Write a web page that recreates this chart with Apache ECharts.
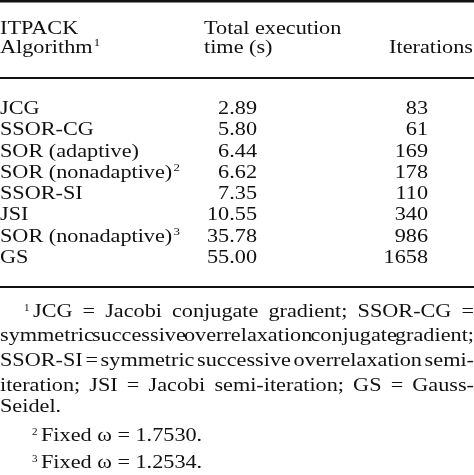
<!DOCTYPE html><html><head><meta charset="utf-8"><script src="https://cdn.jsdelivr.net/npm/echarts@6/dist/echarts.min.js"></script>
<style>html,body{margin:0;background:#fff}#c{width:474px;height:475px}</style></head><body><div id="c"></div><script>
const algorithms=['JCG','SSOR-CG','SOR (adaptive)','SOR (nonadaptive)','SSOR-SI','JSI','SOR (nonadaptive)','GS'];
const algSup=['','','','2','','','3',''];
const times=['2.89','5.80','6.44','6.62','7.35','10.55','35.78','55.00'];
const iterations=[83,61,169,178,110,340,986,1658];
const footSup=['1','','','','','2','3'];
const footLines=['JCG = Jacobi conjugate gradient; SSOR-CG =',
 'symmetric successive overrelaxation conjugate gradient;',
 'SSOR-SI = symmetric successive overrelaxation semi-',
 'iteration; JSI = Jacobi semi-iteration; GS = Gauss-',
 'Seidel.','Fixed ω = 1.7530.','Fixed ω = 1.2534.'];
const footJustify=[true,true,true,true,false,false,false];
const footIndent=[24,0,0,0,0,32,32];
const fnY=[312,336,361,386,407,436,463];
const F='"Liberation Serif", serif', FS=19, SX=1.17;
const rich={s:{fontSize:11,verticalAlign:'top',padding:[0,2,9,1],fontFamily:F,fill:'#111'}};
const cv=document.createElement('canvas').getContext('2d');cv.font=FS+'px "Liberation Serif"';
const w=s=>cv.measureText(s).width*SX;
function t(x,y,text,align){return {type:'text',x,y,scaleX:SX,style:{text,fontFamily:F,fontSize:FS,fill:'#111',textAlign:align||'left',textVerticalAlign:'middle',rich}};}
const g=[];
g.push({type:'rect',shape:{x:0,y:0,width:474,height:2.5},style:{fill:'#111'}});
g.push({type:'rect',shape:{x:0,y:77,width:474,height:2},style:{fill:'#111'}});
g.push({type:'rect',shape:{x:0,y:286,width:474,height:2},style:{fill:'#111'}});
g.push(t(0,29,'ITPACK'));
g.push(t(0,48,'Algorithm{s|1}'));
g.push(t(204,29,'Total execution'));
g.push(t(204,48,'time (s)'));
g.push(t(473,48,'Iterations','right'));
algorithms.forEach((a,i)=>{const y=109+i*21.3;
 g.push(t(0,y,a+(algSup[i]?'{s|'+algSup[i]+'}':'')));
 g.push(t(257,y,times[i],'right'));
 g.push(t(428,y,String(iterations[i]),'right'));});
footLines.forEach((line,i)=>{
 let x=footIndent[i];const y=fnY[i];
 if(footSup[i]){g.push({type:'text',x,y:y-4,style:{text:footSup[i],fontFamily:F,fontSize:11,fill:'#111',textVerticalAlign:'middle'}});x+=9;}
 const words=line.split(' ');
 if(footJustify[i]){const tot=words.reduce((s,wd)=>s+w(wd),0);const gap=(474-x-tot)/(words.length-1);
  words.forEach(wd=>{g.push(t(x,y,wd));x+=w(wd)+gap;});}
 else g.push(t(x,y,line));
});
const ch=echarts.init(document.getElementById('c'));
ch.setOption({animation:false,graphic:g});
</script></body></html>
